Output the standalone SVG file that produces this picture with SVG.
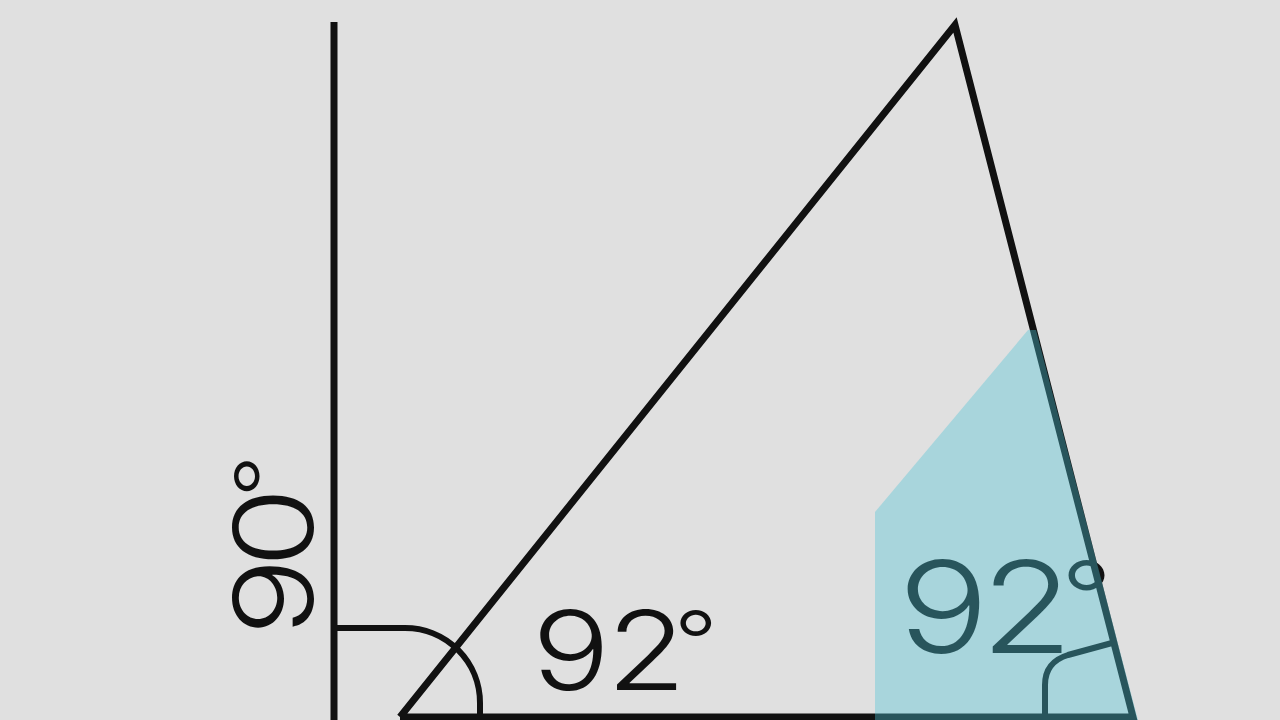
<svg xmlns="http://www.w3.org/2000/svg" width="1280" height="720" viewBox="0 0 1280 720">
<style>
.ln{fill:none;stroke:#111;stroke-width:7;stroke-linejoin:miter;stroke-linecap:butt}
.arc{fill:none;stroke:#111;stroke-width:6}
.lbl{font-family:Inter,"Noto Sans",sans-serif;font-weight:300;fill:#111}
</style>
<rect width="1280" height="720" fill="#E0E0E0"/>
<g id="connectors">
<line class="ln" x1="334" y1="22" x2="334" y2="720"/>
<polyline class="ln" points="400,717 955,25 1133,717 400,717"/>
<path class="arc" d="M337,628 H405 A75,75 0 0 1 480,703 V716"/>
<path class="arc" d="M1112,643 L1068,655 Q1045,662 1045,685 V716"/>
</g>
<g id="label-90">
<text class="lbl" font-size="110" transform="translate(313,630) rotate(-90) scale(1.18,1)" x="-5">9<tspan x="53">0</tspan><tspan x="112" dy="-20" font-size="80">°</tspan></text>
</g>
<g id="label-92-left">
<text class="lbl" font-size="110" transform="translate(538,690) scale(1.18,1)" x="-5">9<tspan x="58">2</tspan><tspan x="115" dy="-20" font-size="82">°</tspan></text>
</g>
<g id="label-92-right">
<text class="lbl" font-size="128" transform="translate(905,653) scale(1.18,1)" x="-6">9<tspan x="64">2</tspan><tspan x="132" dy="-22" font-size="96">°</tspan></text>
</g>
<g id="highlight">
<polygon points="875,720 875,512 1028,330 1036,330 1138,720" fill="rgb(78,195,213)" fill-opacity="0.384"/>
</g>
</svg>
